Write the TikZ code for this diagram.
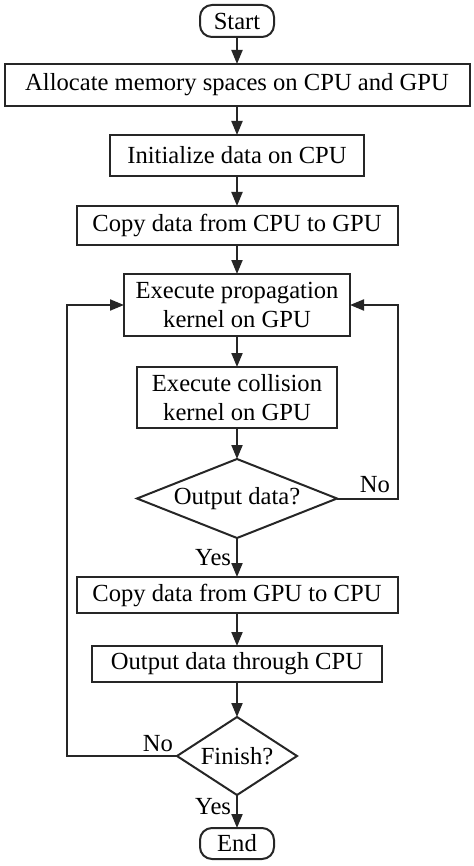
\documentclass[tikz,border=0pt]{standalone}
\usepackage{fontspec}
\setmainfont{Liberation Serif}
\usetikzlibrary{
    positioning,
    arrows.meta,
    shapes.geometric
}
\tikzset{%
    process/.style={%
        rectangle,
        draw=black!85,
        line width=1pt,
        inner sep = 0pt,
        outer sep = 0pt,
        align=center,
        font=\fontsize{12.3}{14.5}\selectfont
    },
    terminal/.style={%
        process,
        rounded corners=6pt,
        minimum width=37pt,
        minimum height=16pt
    },
    decision/.style={%
        diamond,
        draw=black!85,
        line width=1pt,
        inner sep = 0pt,
        outer sep = 0pt,
        font=\fontsize{12.3}{14.5}\selectfont
    },
    branch/.style={%
        font=\fontsize{12.3}{14.5}\selectfont,
        inner sep=2.5pt
    },
    arrow/.style={%
        draw=black!85,
        line width=1pt,
        >={Triangle[length=7pt, width=5.5pt]},
    },
}

\begin{document}
\begin{tikzpicture}
    \useasboundingbox (0,0) rectangle (237pt,-433pt);

    \node[terminal] (start) at (118.5pt,-10.5pt) {Start};
    \node[process, minimum width=232.5pt, minimum height=21pt, below=13.5pt of start] (alloc) {Allocate memory spaces on CPU and GPU};
    \node[process, minimum width=127pt, minimum height=20.5pt, below=14.5pt of alloc] (init) {Initialize data on CPU};
    \node[process, minimum width=160.5pt, minimum height=19.5pt, below=15pt of init] (tognu) {Copy data from CPU to GPU};
    \node[process, minimum width=113pt, minimum height=31pt, below=14.5pt of tognu] (prop) {Execute propagation\\kernel on GPU};
    \node[process, minimum width=100pt, minimum height=30.5pt, below=15.5pt of prop] (coll) {Execute collision\\kernel on GPU};
    \node[decision, aspect=2.5, minimum width=100pt, minimum height=39.5pt, below=15.5pt of coll] (outq) {Output data?};
    \node[process, minimum width=160.5pt, minimum height=18pt, below=19.5pt of outq] (tocpu) {Copy data from GPU to CPU};
    \node[process, minimum width=145pt, minimum height=18pt, below=16.5pt of tocpu] (outcpu) {Output data through CPU};
    \node[decision, aspect=1.5, minimum width=60pt, minimum height=39pt, below=17.5pt of outcpu] (finish) {Finish?};
    \node[terminal, minimum height=15.5pt, below=16.5pt of finish] (end) {End};

    % loop corners
    \coordinate[right=24pt of prop.east] (rturn);
    \coordinate[left=28.5pt of prop.west] (lturn);

    \draw[arrow, ->] (start) to (alloc);
    \draw[arrow, ->] (alloc) to (init);
    \draw[arrow, ->] (init) to (tognu);
    \draw[arrow, ->] (tognu) to (prop);
    \draw[arrow, ->] (prop) to (coll);
    \draw[arrow, ->] (coll) to (outq);
    \draw[arrow, ->] (outq) to node[branch, left] {Yes} (tocpu);
    \draw[arrow, ->] (tocpu) to (outcpu);
    \draw[arrow, ->] (outcpu) to (finish);
    \draw[arrow, ->] (finish) to node[branch, left, pos=0.35] {Yes} (end);

    \draw[arrow, ->] (outq.east) -| node[branch, above, pos=0.31] {No} (rturn) -- (prop.east);
    \draw[arrow, ->] (finish.west) node[branch, above left, inner sep=1.5pt] {No} -| (lturn) -- (prop.west);
\end{tikzpicture}
\end{document}
